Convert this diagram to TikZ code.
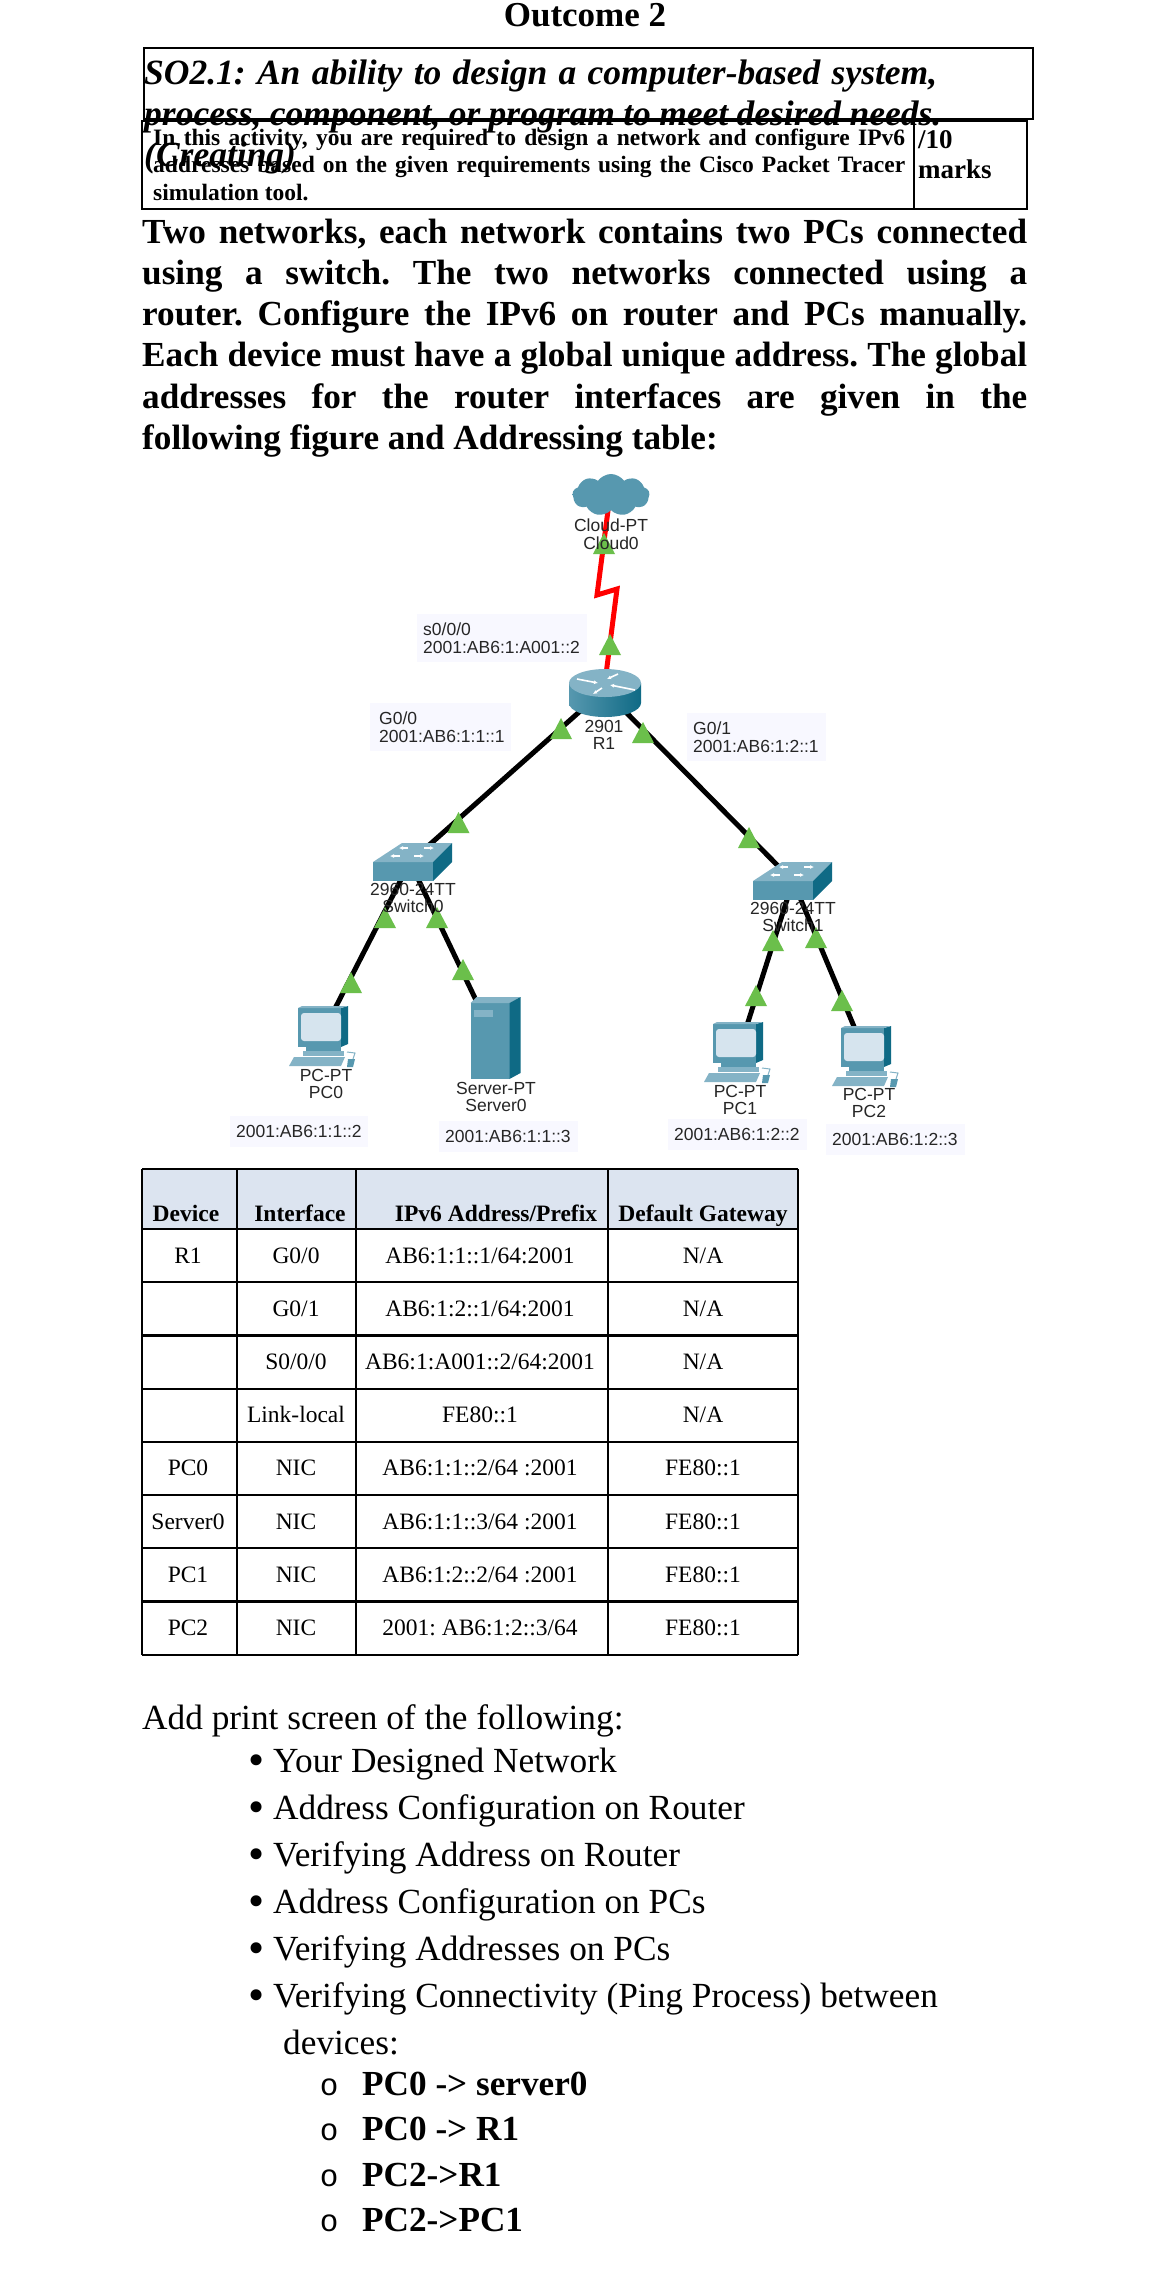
\documentclass[tikz,border=0pt]{standalone}
\usepackage{fontspec}
\setmainfont{Liberation Serif}
\newfontfamily\labelfamily{Liberation Sans}
\newfontfamily\ringfamily{Liberation Mono}
\usetikzlibrary{shapes.symbols, arrows.meta}
\definecolor{teal1}{HTML}{5798AF}
\definecolor{teal2}{HTML}{84B3C6}
\definecolor{teal3}{HTML}{0F6A85}
\definecolor{screen}{HTML}{D6E4EE}
\definecolor{marker}{HTML}{6BBF4B}
\definecolor{labelbg}{HTML}{F8F8FF}
\definecolor{headbg}{HTML}{DCE4F0}
\tikzset{
device/.style={inner sep=0, minimum size=1pt},
wire/.style={line width=5pt, black},
serial/.style={line width=5pt, red, line join=miter},
marktip/.style={fill=marker},
devlabel/.style={align=center, inner sep=0, text=black!85, font=\labelfamily\fontsize{17.5}{17.5}\selectfont},
addrbox/.style={fill=labelbg, inner sep=0, anchor=north west},
addrtext/.style={align=left, inner sep=0, text=black!85, font=\labelfamily\fontsize{17.5}{17.5}\selectfont},
tablehead/.style={anchor=base, inner sep=0, font=\fontsize{23.5}{26}\selectfont\bfseries},
tablecell/.style={anchor=base, inner sep=0, font=\fontsize{23.5}{26}\selectfont},
listtext/.style={anchor=base west, inner sep=0, font=\fontsize{35.3}{40}\selectfont},
pingtext/.style={anchor=base west, inner sep=0, font=\fontsize{35.2}{40}\selectfont\bfseries},
dotmark/.style={anchor=base west, inner sep=0, font=\fontsize{46}{46}\selectfont},
ringmark/.style={anchor=base west, inner sep=0, font=\ringfamily\fontsize{31}{31}\selectfont},
tinyarrow/.style={white, line width=1.6pt, -{Latex[length=4pt,width=4pt]}},
cloudicon/.pic={\node [cloud, cloud puffs=9, cloud puff arc=110, aspect=1.9, minimum width=77pt, minimum height=42pt, inner sep=0, left color=teal1, middle color=teal2!90!white, right color=teal1] at (0,0) {};},
routericon/.pic={
  \path [left color=teal1, middle color=white!90!teal2, right color=teal3] (-35,-7) -- (-35,13) arc [start angle=180, end angle=0, x radius=36, y radius=14] -- (37,-7) -- cycle;
  \fill [teal2] (1,-7) ellipse [x radius=36, y radius=14];
  \draw [tinyarrow] (-27,-11) -- (-6,-7);
  \draw [tinyarrow] (14,-16) -- (3,-11);
  \draw [tinyarrow] (31,0) -- (6,-5);
  \draw [tinyarrow] (-2,-2) -- (-11,4);
},
switchicon/.pic={
  \fill [teal1] (-37,0) rectangle (23,19);
  \fill [teal2] (-37,0) -- (-8,-19) -- (42,-19) -- (23,0) -- cycle;
  \fill [teal3] (23,0) -- (42,-19) -- (42,0) -- (23,19) -- cycle;
  \draw [tinyarrow] (-2,-14) -- (-11,-14);
  \draw [tinyarrow] (14,-14) -- (24,-14);
  \draw [tinyarrow] (-10,-6) -- (-20,-6);
  \draw [tinyarrow] (4,-6) -- (14,-6);
},
pcicon/.pic={
  \fill [teal1] (-25,-20) rectangle (18,19);
  \fill [teal3] (18,-20) -- (25,-22) -- (25,16) -- (18,19) -- cycle;
  \fill [teal2] (-25,-20) -- (-21,-22) -- (25,-22) -- (18,-20) -- cycle;
  \fill [screen, rounded corners=3pt] (-22,-15) rectangle (18,13);
  \fill [teal1] (-17,19) rectangle (18,23);
  \fill [teal2] (-20,23) rectangle (21,28);
  \fill [teal2] (-29,29) -- (22,29) -- (18,38) -- (-34,38) -- cycle;
  \fill [teal1] (25,31) -- (32,31) -- (30,39) -- (24,39) -- cycle;
  \draw [teal2, line width=1pt] (30,31) -- (32,25) -- (24,24);
},
servericon/.pic={
  \fill [teal1] (-25,-35) rectangle (14,41);
  \fill [teal2] (-25,-35) -- (-19,-41) -- (25,-41) -- (14,-35) -- cycle;
  \fill [teal3] (14,-35) -- (25,-41) -- (25,35) -- (14,41) -- cycle;
  \fill [teal2] (-22,-28) rectangle (-3,-21);
}}
\begin{document}
\frenchspacing
\begin{tikzpicture}[x=1pt, y=-1pt]
\useasboundingbox [fill=white] (0,0) rectangle (1170,2287);

\node [anchor=base, inner sep=0, font=\fontsize{35}{35}\selectfont\bfseries] (title) at (585,26) {Outcome 2};
\draw [line width=2pt] (144,48) rectangle (1033,119);
\foreach \sline [count=\s, evaluate={\sy=int(84+41*(\s-1));}] in {{\makebox[793pt][s]{SO2.1: An ability to design a computer-based system,}}, {\makebox[797pt][s]{process, component, or program to meet desired needs.}}, (Creating)}{
      \node [anchor=base west, inner sep=0, font=\fontsize{35.5}{36}\selectfont\bfseries\itshape] (so-\s) at (144,\sy) {\sline};
}
\draw [line width=2pt] (142,121) rectangle (1027,209);
\draw [line width=2pt] (914,121) -- (914,209);
\foreach \bline [count=\b, evaluate={\by=145+27.5*(\b-1);}] in {{\makebox[752pt][s]{In this activity, you are required to design a network and configure IPv6}}, {\makebox[752pt][s]{addresses based on the given requirements using the Cisco Packet Tracer}}, simulation tool.}{
      \node [anchor=base west, inner sep=0, font=\fontsize{23.5}{25}\selectfont\bfseries] (task-\b) at (153,\by) {\bline};
}
\node [anchor=base west, inner sep=0, font=\fontsize{27}{30}\selectfont\bfseries] (marks-1) at (918,148) {/10};
\node [anchor=base west, inner sep=0, font=\fontsize{27}{30}\selectfont\bfseries] (marks-2) at (918,178) {marks};

\foreach \pline [count=\p, evaluate={\py=243+41.3*(\p-1);}] in {{\makebox[885pt][s]{Two networks, each network contains two PCs connected}}, {\makebox[885pt][s]{using a switch. The two networks connected using a}}, {\makebox[885pt][s]{router. Configure the IPv6 on router and PCs manually.}}, {\makebox[885pt][s]{Each device must have a global unique address. The global}}, {\makebox[885pt][s]{addresses for the router interfaces are given in the}}, following figure and Addressing table:}{
      \node [anchor=base west, inner sep=0, font=\fontsize{35.2}{40}\selectfont\bfseries] (para-\p) at (142,\py) {\pline};
}

\node [device] (cloud-0) at (610,495) {};
\node [device] (r1) at (604,690) {};
\node [device] (sw-0) at (410,862) {};
\node [device] (sw-1) at (793,881) {};
\node [device] (pc-0) at (325,1028) {};
\node [device] (server-0) at (495,1040) {};
\node [device] (pc-1) at (741,1044) {};
\node [device] (pc-2) at (863,1048) {};
\coordinate (bend-1) at (597,595);
\coordinate (bend-2) at (617,589);

\draw [serial] (cloud-0) -- (bend-1) -- (bend-2) -- (r1);
\draw [wire] (r1) -- (sw-0);
\draw [wire] (r1) -- (sw-1);
\draw [wire] (sw-0) -- (pc-0);
\draw [wire] (sw-0) -- (server-0);
\draw [wire] (sw-1) -- (pc-1);
\draw [wire] (sw-1) -- (pc-2);

\pic at (611,495) {cloudicon};
\pic at (604,690) {routericon};
\pic at (410,862) {switchicon};
\pic at (790,881) {switchicon};
\pic at (323,1028) {pcicon};
\pic at (738,1044) {pcicon};
\pic at (866,1048) {pcicon};
\pic at (495.5,1038) {servericon};

\foreach \mx/\my in {604/533, 610/634, 561/718, 643/722, 458.5/812, 749/827, 385/907, 437/907, 351/972, 463/959, 773/930, 816/927, 756/985, 842/990}{
      \fill [marktip] (\mx,\my) -- ++(-11,21) -- ++(22,0) -- cycle;
}

\foreach \dname/\dx/\dy/\dtop/\dbottom in {cloud/611/534/Cloud-PT/Cloud0, r1/604/735/2901/R1, sw0/413/898/2960-24TT/Switch0, sw1/793/917/2960-24TT/Switch1, pc0/326/1084/PC-PT/PC0, server0/496/1097/Server-PT/Server0, pc1/740/1100/PC-PT/PC1, pc2/869/1103/PC-PT/PC2}{
      \node [devlabel] (lab-\dname) at (\dx,\dy) {\dtop\\\dbottom};
}

\foreach \aname/\ax/\ay/\aw/\ah/\tx/\atext in {serial/417/614/170/48/423/{s0/0/0\\2001:AB6:1:A001::2}, g00/370/703/141/48/379/{G0/0\\2001:AB6:1:1::1}, g01/687/713/139/48/693/{G0/1\\2001:AB6:1:2::1}, pc0/230/1116/138/31/236/{2001:AB6:1:1::2}, server0/439/1121/139/31/445/{2001:AB6:1:1::3}, pc1/668/1119/139/31/674/{2001:AB6:1:2::2}, pc2/826/1124/139/31/832/{2001:AB6:1:2::3}}{
      \node [addrbox, minimum width=\aw pt, minimum height=\ah pt] (box-\aname) at (\ax,\ay) {};
      \node [addrtext, anchor=west] (addr-\aname) at (\tx,\ay+0.5*\ah) {\atext};
}

\fill [headbg] (142,1169) rectangle (798,1229);
\foreach \hname/\hx in {Device/186, Interface/300, IPv6 Address{/}Prefix/496, Default Gateway/703}{
      \node [tablehead] (head-\hx) at (\hx,1221) {\hname};
}
\foreach \cdev/\cint/\caddr/\cgate [count=\r, evaluate={\ry=1263+53.2*(\r-1);}] in {R1/{G0/0}/{AB6:1:1::1/64:2001}/{N/A}, {}/{G0/1}/{AB6:1:2::1/64:2001}/{N/A}, {}/{S0/0/0}/{AB6:1:A001::2/64:2001}/{N/A}, {}/Link-local/FE80::1/{N/A}, PC0/NIC/{AB6:1:1::2/64 :2001}/FE80::1, Server0/NIC/{AB6:1:1::3/64 :2001}/FE80::1, PC1/NIC/{AB6:1:2::2/64 :2001}/FE80::1, PC2/NIC/{2001: AB6:1:2::3/64}/FE80::1}{
      \ifx\cdev\empty\else
          \node [tablecell] (dev-\r) at (188,\ry) {\cdev};
      \fi
      \node [tablecell] (int-\r) at (296,\ry) {\cint};
      \node [tablecell] (addr-\r) at (480,\ry) {\caddr};
      \node [tablecell] (gate-\r) at (703,\ry) {\cgate};
}
\foreach \colx in {142, 237, 356, 608, 798}{
      \draw [line width=2.2pt] (\colx,1169) -- (\colx,1654.6);
}
\draw [line width=2.2pt] (142,1169) -- (798,1169);
\foreach \r in {0,...,8}{
      \draw [line width=2.2pt] (142,1229+53.2*\r) -- (798,1229+53.2*\r);
}

\node [listtext] (intro) at (142,1729.5) {Add print screen of the following:};
\foreach \ltext [count=\l, evaluate={\ly=1772+47*(\l-1); \dy=\ly+3;}] in {Your Designed Network, Address Configuration on Router, Verifying Address on Router, Address Configuration on PCs, Verifying Addresses on PCs, Verifying Connectivity (Ping Process) between}{
      \node [listtext] (item-\l) at (273,\ly) {\ltext};
      \node [dotmark] (dot-\l) at (248,\dy) {\textbullet};
}
\node [listtext] (item-more) at (283,2054) {devices:};
\foreach \ping [count=\q, evaluate={\qy=2095.5+45.3*(\q-1);}] in {PC0 -> server0, PC0 -> R1, PC2->R1, PC2->PC1}{
      \node [pingtext] (ping-\q) at (362,\qy) {\ping};
      \node [ringmark] (ring-\q) at (319.7,\qy) {o};
}
\end{tikzpicture}
\end{document}
